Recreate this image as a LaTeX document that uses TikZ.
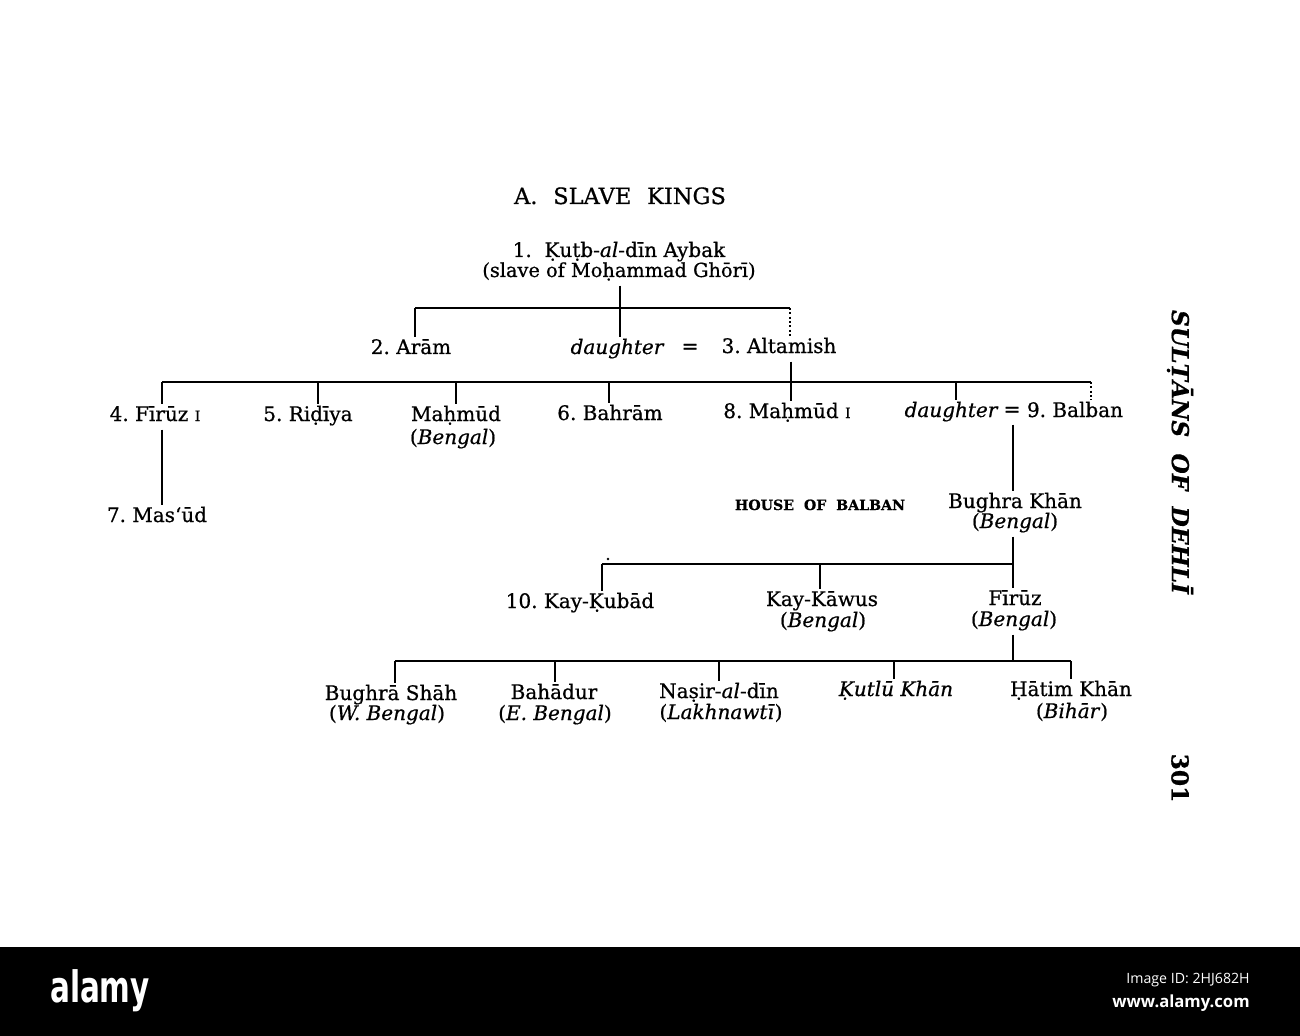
\documentclass[tikz,border=0pt]{standalone}
\usepackage{fontspec}
\setmainfont{DejaVu Serif}[FakeBold=0.7]
\newfontfamily\wmsans{Open Sans}
\newfontfamily\logosans{DejaVu Sans}
\newcommand\smI{{\fontsize{8.5}{9}\selectfont I}}
\newcommand\bodysize{\fontsize{12}{14}\selectfont}
\begin{document}
\begin{tikzpicture}[x=0.6pt,y=-0.6pt,
  nm/.style={anchor=base, inner xsep=1pt, inner ysep=2.5pt, text height=0.75em, text depth=0.25em, font=\bodysize},
  it/.style={nm, font=\bodysize\itshape},
  ln/.style={line width=1pt},
  dl/.style={line width=1pt, dash pattern=on 1.2pt off 1.4pt}]
\useasboundingbox (0,0) rectangle (1300,1036);
\fill[white] (0,0) rectangle (1300,1036);

% title
\node[nm, font=\fontsize{13.5}{16}\selectfont] (title) at (620,204) {A.\hspace{0.7em}SLAVE\hspace{0.7em}KINGS};

% generation 1
\node[nm] (kutb) at (619,257) {1.\ \ Ḳuṭb-\textit{al}-dīn Aybak};
\node[nm, font=\fontsize{11.6}{14}\selectfont] (kutbB) at (619,277) {(slave of Moḥammad Ghōrī)};

% generation 2
\node[nm] (aram) at (411,354) {2.\ Arām};
\node[it] (dau1) at (617,354) {daughter};
\node[nm] (eq1) at (690,353) {=};
\node[nm] (alt) at (779,353) {3.\ Altamish};

\coordinate (b1a) at (415,308);
\coordinate (b1c) at (620,308);
\coordinate (b1r) at (790,308);
\draw[ln] (kutbB.south -| b1c) -- (b1c);
\draw[ln] (b1a) -- (b1r);
\draw[ln] (b1a) -- (aram.north -| b1a);
\draw[ln] (b1c) -- (dau1.north -| b1c);
\draw[dl] (b1r) -- (alt.north -| b1r);

% generation 3
\node[nm] (f1) at (155,421) {4.\ Fīrūz \smI};
\node[nm] (rid) at (308,421) {5.\ Riḍīya};
\node[nm] (mah) at (456,421) {Maḥmūd};
\node[nm] (mahB) at (453,444) {(\textit{Bengal})};
\node[nm] (bah) at (610,420) {6.\ Bahrām};
\node[nm] (m8) at (787,418) {8.\ Maḥmūd \smI};
\node[it] (dau2) at (951,417) {daughter};
\node[nm] (eq2) at (1012,416) {=};
\node[nm] (bal) at (1075,417) {9.\ Balban};

\coordinate (b2a) at (162,382);
\coordinate (b2b) at (318,382);
\coordinate (b2c) at (456,382);
\coordinate (b2d) at (609,382);
\coordinate (b2m) at (791,382);
\coordinate (b2e) at (956,382);
\coordinate (b2r) at (1091,382);
\draw[ln] (alt.south -| b2m) -- (m8.north -| b2m);
\draw[ln] (b2a) -- (b2r);
\draw[ln] (b2a) -- (f1.north -| b2a);
\draw[ln] (b2b) -- (rid.north -| b2b);
\draw[ln] (b2c) -- (mah.north -| b2c);
\draw[ln] (b2d) -- (bah.north -| b2d);
\draw[ln] (b2e) -- (dau2.north -| b2e);
\draw[dl] (b2r) -- (bal.north -| b2r);

% Mas'ud
\node[nm] (m7) at (157,522) {7.\ Mas‘ūd};
\draw[ln] (f1.south -| b2a) -- (m7.north -| b2a);

% House of Balban
\node[nm, font=\fontsize{8.5}{10}\selectfont\bfseries] (house) at (820,510) {HOUSE\ \ OF\ \ BALBAN};
\node[nm] (bug) at (1015,508) {Bughra Khān};
\node[nm] (bugB) at (1015,528) {(\textit{Bengal})};
\coordinate (v3) at (1013,564);
\draw[ln] (eq2.south -| v3) -- (bug.north -| v3);

% generation 4
\node[nm] (kq) at (580,608) {10.\ Kay-Ḳubād};
\node[nm] (kk) at (822,606) {Kay-Kāwus};
\node[nm] (kkB) at (823,627) {(\textit{Bengal})};
\node[nm] (fz) at (1015,605) {Fīrūz};
\node[nm] (fzB) at (1014,626) {(\textit{Bengal})};

\coordinate (b3a) at (602,564);
\coordinate (b3b) at (820,564);
\draw[ln] (bugB.south -| v3) -- (fz.north -| v3);
\draw[ln] (b3a) -- (v3);
\draw[ln] (b3a) -- (kq.north -| b3a);
\draw[ln] (b3b) -- (kk.north -| b3b);
\fill (608,559) circle[radius=1.3];

% generation 5
\node[nm] (bs) at (391,700) {Bughrā Shāh};
\node[nm] (bsB) at (387,720) {(\textit{W. Bengal})};
\node[nm] (bd) at (554,699) {Bahādur};
\node[nm] (bdB) at (555,720) {(\textit{E. Bengal})};
\node[nm] (nd) at (719,698) {Naṣir-\textit{al}-dīn};
\node[nm] (ndB) at (721,719) {(\textit{Lakhnawtī})};
\node[it] (kt) at (896,696) {Ḳutlū Khān};
\node[nm] (hk) at (1071,696) {Ḥātim Khān};
\node[nm] (hkB) at (1072,718) {(\textit{Bihār})};

\coordinate (v4) at (1013,661);
\coordinate (b4a) at (395,661);
\coordinate (b4b) at (555,661);
\coordinate (b4c) at (719,661);
\coordinate (b4d) at (894,661);
\coordinate (b4e) at (1071,661);
\draw[ln] (fzB.south -| v4) -- (v4);
\draw[ln] (b4a) -- (b4e);
\draw[ln] (b4a) -- (bs.north -| b4a);
\draw[ln] (b4b) -- (bd.north -| b4b);
\draw[ln] (b4c) -- (nd.north -| b4c);
\draw[ln] (b4d) -- (kt.north -| b4d);
\draw[ln] (b4e) -- (hk.north -| b4e);

% side titles
\node[font=\fontsize{14}{16}\selectfont\bfseries\itshape, rotate=-90, inner sep=0pt] (sult) at (1180,452) {SULṬĀNS\ \ OF\ \ DEHLĪ};
\node[font=\fontsize{14}{16}\selectfont\bfseries, rotate=-90, inner sep=0pt] (page) at (1180,778) {301};

% bottom band
\fill[black] (0,947) rectangle (1300,1036);
\node[anchor=base, inner sep=0pt, text=white, font=\logosans\bfseries\fontsize{26}{28}\selectfont] (logo) at (100,1002) {\scalebox{0.68}[1]{alamy}};
\node[anchor=base east, inner sep=0pt, text=white, font=\wmsans\fontsize{8.5}{10}\selectfont] (imgid) at (1250,983) {Image ID: 2HJ682H};
\node[anchor=base east, inner sep=0pt, text=white, font=\wmsans\bfseries\fontsize{10}{12}\selectfont] (www) at (1250,1007) {www.alamy.com};
\end{tikzpicture}
\end{document}
